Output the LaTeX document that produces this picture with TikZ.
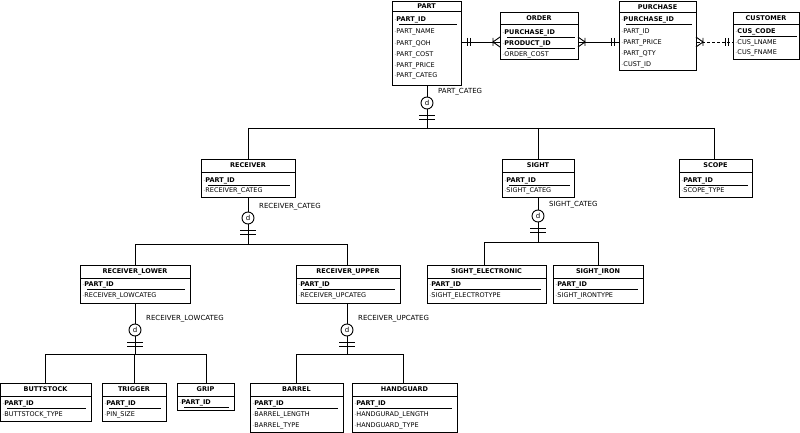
\documentclass[tikz,border=0pt]{standalone}
\usepackage{fontspec}
\setmainfont{DejaVu Sans}
\begin{document}
\begin{tikzpicture}[x=1pt,y=-1pt,
  box/.style={draw,line width=1pt,anchor=north west,inner sep=0},
  ttl/.style={font=\bfseries\fontsize{6.5}{7}\selectfont},
  att/.style={font=\fontsize{6.5}{7}\selectfont,anchor=west,inner sep=0},
  lbl/.style={font=\fontsize{7}{8}\selectfont,anchor=west,inner sep=0},
  ln/.style={line width=0.9pt},
  dc/.style={circle,draw,line width=0.9pt,minimum size=12pt,inner sep=0,font=\fontsize{7}{8}\selectfont}]
\useasboundingbox (0,0) rectangle (800,433);
% #1 name, #2 x1, #3 x2, #4 ytop, #5 title bottom, #6 ybot, #7 title
\newcommand\myent[7]{%
  \node[box,minimum width={(#3-#2)*1pt},minimum height={(#6-#4)*1pt}] (#1) at (#2,#4) {};
  \node[ttl] (#1t) at ({(#2+#3)/2},{(#4+#5)/2}) {#7};
  \draw[line width=1pt] (#2,#5) -- (#3,#5);}
% #1 x, #2 y, #3 text, #4 key? (underline end x)
\newcommand\myatt[3]{\node[att] at (#1+2,#2) {$\cdot$#3};}
\newcommand\mykey[4]{\node[att] at (#1+2,#2) {$\cdot$\textbf{#3}};
  \draw[line width=0.5pt] (#1+7,#2+4.5) -- (#4,#2+4.5);}

\myent{part}{392}{461}{1}{12}{85}{PART}
\mykey{392}{20}{PART\_ID}{457}
\myatt{392}{32}{PART\_NAME}\myatt{392}{44}{PART\_QOH}\myatt{392}{55}{PART\_COST}
\myatt{392}{66}{PART\_PRICE}\myatt{392}{76}{PART\_CATEG}

\myent{order}{500}{578}{12}{25}{59}{ORDER}
\mykey{500}{33}{PURCHASE\_ID}{575}\mykey{500}{44}{PRODUCT\_ID}{575}\myatt{500}{55}{ORDER\_COST}

\myent{purchase}{619}{696}{1}{13}{70}{PURCHASE}
\mykey{619}{20}{PURCHASE\_ID}{692}
\myatt{619}{32}{PART\_ID}\myatt{619}{43}{PART\_PRICE}\myatt{619}{54}{PART\_QTY}\myatt{619}{65}{CUST\_ID}

\myent{customer}{733}{799}{12}{25}{59}{CUSTOMER}
\mykey{733}{32}{CUS\_CODE}{797}\myatt{733}{43}{CUS\_LNAME}\myatt{733}{53}{CUS\_FNAME}

\myent{receiver}{201}{295}{159}{172}{197}{RECEIVER}
\mykey{201}{181}{PART\_ID}{290}\myatt{201}{191}{RECEIVER\_CATEG}
\myent{sight}{502}{574}{159}{172}{197}{SIGHT}
\mykey{502}{181}{PART\_ID}{570}\myatt{502}{191}{SIGHT\_CATEG}
\myent{scope}{679}{752}{159}{172}{197}{SCOPE}
\mykey{679}{181}{PART\_ID}{748}\myatt{679}{191}{SCOPE\_TYPE}

\myent{rlow}{80}{190}{265}{278}{303}{RECEIVER\_LOWER}
\mykey{80}{285}{PART\_ID}{185}\myatt{80}{296}{RECEIVER\_LOWCATEG}
\myent{rup}{296}{400}{265}{278}{303}{RECEIVER\_UPPER}
\mykey{296}{285}{PART\_ID}{395}\myatt{296}{296}{RECEIVER\_UPCATEG}
\myent{selec}{427}{546}{265}{278}{303}{SIGHT\_ELECTRONIC}
\mykey{427}{285}{PART\_ID}{541}\myatt{427}{296}{SIGHT\_ELECTROTYPE}
\myent{siron}{553}{643}{265}{278}{303}{SIGHT\_IRON}
\mykey{553}{285}{PART\_ID}{638}\myatt{553}{296}{SIGHT\_IRONTYPE}

\myent{butt}{0}{91}{383}{396}{421}{BUTTSTOCK}
\mykey{0}{404}{PART\_ID}{86}\myatt{0}{415}{BUTTSTOCK\_TYPE}
\myent{trig}{102}{166}{383}{396}{421}{TRIGGER}
\mykey{102}{404}{PART\_ID}{161}\myatt{102}{415}{PIN\_SIZE}
\myent{grip}{177}{234}{383}{396}{410}{GRIP}
\mykey{177}{403}{PART\_ID}{229}
\myent{barrel}{250}{343}{383}{396}{432}{BARREL}
\mykey{250}{404}{PART\_ID}{338}\myatt{250}{415}{BARREL\_LENGTH}\myatt{250}{426}{BARREL\_TYPE}
\myent{hand}{352}{457}{383}{396}{432}{HANDGUARD}
\mykey{352}{404}{PART\_ID}{452}\myatt{352}{415}{HANDGURAD\_LENGTH}\myatt{352}{426}{HANDGUARD\_TYPE}

% subtype hierarchy: #1 parent, #2 x, #3 circle y, #4 bar y, #5 hline y, #6 label, #7 label x
\newcommand\mysub[6]{%
  \node[dc] (#1d) at (#2,#3) {d};
  \draw[ln] (#1.south -| #1d) -- (#1d.north);
  \draw[ln] (#1d.south) -- (#2,#5);
  \draw[ln] (#2-8,#4) -- (#2+8,#4) (#2-8,#4+4) -- (#2+8,#4+4);
  \node[lbl] at (#2+11,#3-11) {#6};}
\mysub{part}{427}{103}{115}{128}{PART\_CATEG}
\draw[ln] (248,128) -- (714,128);
\draw[ln] (248,128) -- (receiver.north -| 248,0);
\draw[ln] (538,128) -- (sight.north -| 538,0);
\draw[ln] (714,128) -- (scope.north -| 714,0);

\mysub{receiver}{248}{218}{230}{244}{RECEIVER\_CATEG}
\draw[ln] (135,244) -- (347,244);
\draw[ln] (135,244) -- (rlow.north -| 135,0);
\draw[ln] (347,244) -- (rup.north -| 347,0);

\mysub{sight}{538}{216}{228}{242}{SIGHT\_CATEG}
\draw[ln] (484,242) -- (598,242);
\draw[ln] (484,242) -- (selec.north -| 484,0);
\draw[ln] (598,242) -- (siron.north -| 598,0);

\mysub{rlow}{135}{330}{342}{354}{RECEIVER\_LOWCATEG}
\draw[ln] (45,354) -- (206,354);
\draw[ln] (45,354) -- (butt.north -| 45,0);
\draw[ln] (134,354) -- (trig.north -| 134,0);
\draw[ln] (206,354) -- (grip.north -| 206,0);

\mysub{rup}{347}{330}{342}{354}{RECEIVER\_UPCATEG}
\draw[ln] (296,354) -- (403,354);
\draw[ln] (296,354) -- (barrel.north -| 296,0);
\draw[ln] (403,354) -- (hand.north -| 403,0);

% relationships
\draw[ln] (part.east |- 0,42) -- (order.west |- 0,42);
\draw[ln] (467,38) -- (467,46) (470,38) -- (470,46);
\draw[ln] (493,38) -- (493,46) (500,37) -- (493,42) -- (500,47);
\draw[ln] (order.east |- 0,42) -- (purchase.west |- 0,42);
\draw[ln] (585,38) -- (585,46) (578,37) -- (585,42) -- (578,47);
\draw[ln] (611,38) -- (611,46) (614,38) -- (614,46);
\draw[ln,dashed,dash pattern=on 3pt off 2pt] (purchase.east |- 0,42) -- (customer.west |- 0,42);
\draw[ln] (703,38) -- (703,46) (696,37) -- (703,42) -- (696,47);
\draw[ln] (725,38) -- (725,46) (728,38) -- (728,46);
\end{tikzpicture}
\end{document}
